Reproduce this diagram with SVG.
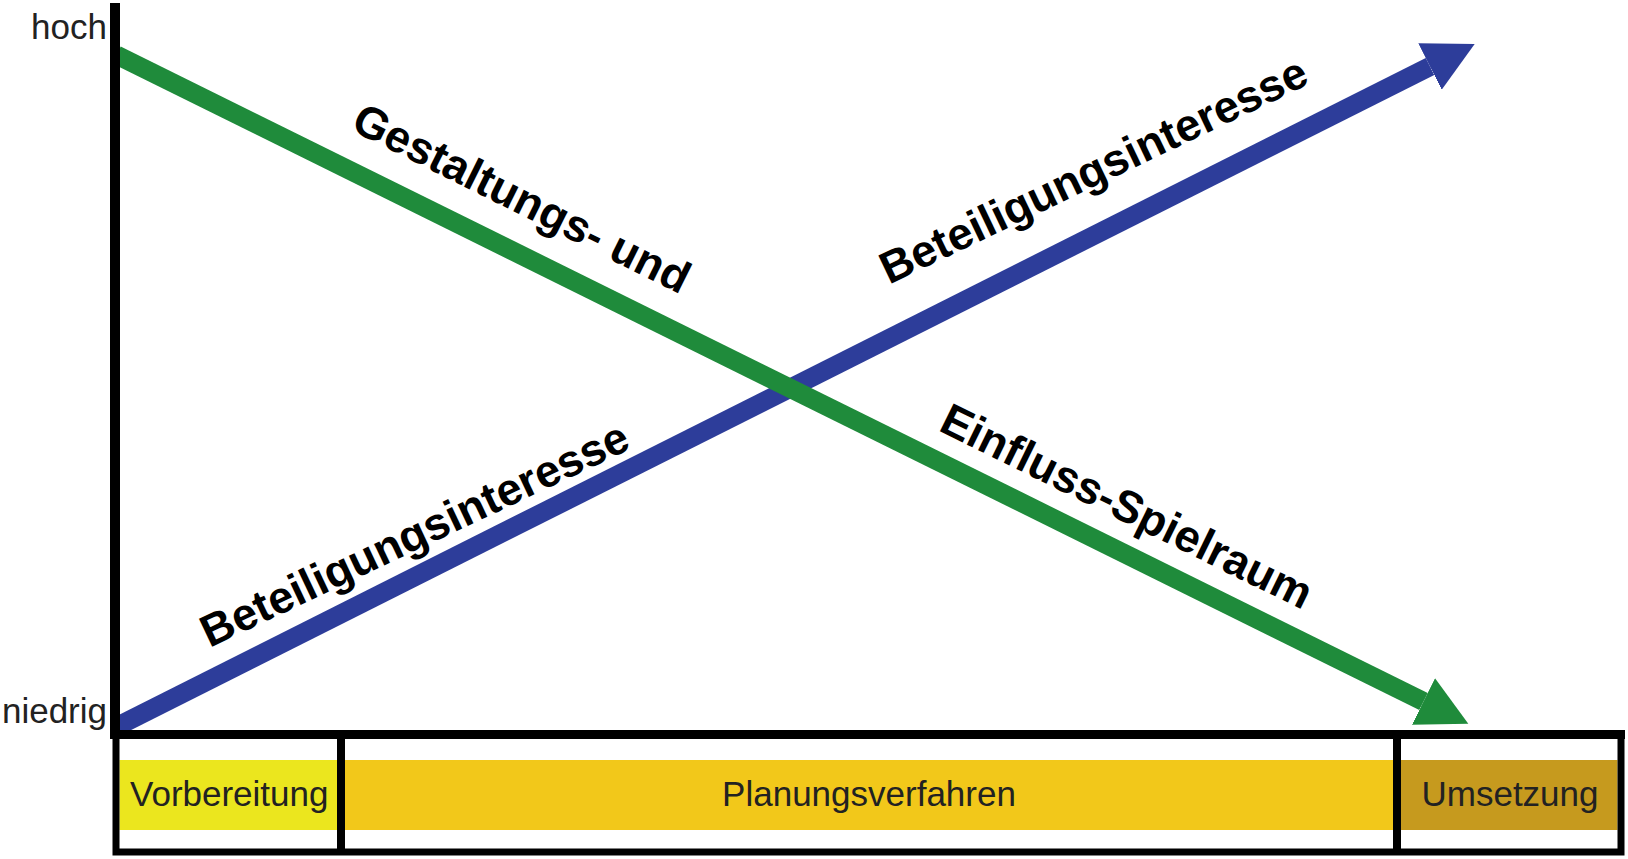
<svg xmlns="http://www.w3.org/2000/svg" width="1628" height="859" viewBox="0 0 1628 859">
<defs>
<style>
.ax{stroke:#000;stroke-linecap:butt}
.lbl{font-family:"Liberation Sans",Arial,sans-serif;font-size:35px;fill:#222}
.diag{font-family:"Liberation Sans",Arial,sans-serif;font-size:45px;font-weight:bold;fill:#000;text-anchor:middle}
.green{stroke:#1f8b3b;stroke-width:19;fill:none}
.blue{stroke:#2d3d9a;stroke-width:19;fill:none}
</style>
<marker id="hg" markerUnits="userSpaceOnUse" markerWidth="60" markerHeight="60" refX="0" refY="30" orient="auto" viewBox="0 0 60 60">
<path d="M0,4 L50,30 L0,56 z" fill="#1f8b3b"/>
</marker>
<marker id="hb" markerUnits="userSpaceOnUse" markerWidth="60" markerHeight="60" refX="0" refY="30" orient="auto" viewBox="0 0 60 60">
<path d="M0,4 L50,30 L0,56 z" fill="#2d3d9a"/>
</marker>
</defs>
<rect width="1628" height="859" fill="#fff"/>

<g id="phases">
<g id="vorbereitung">
<rect x="119.5" y="760" width="218" height="70" fill="#ebe61e"/>
<text class="lbl" x="130" y="806">Vorbereitung</text>
</g>
<g id="planungsverfahren">
<rect x="344.5" y="760" width="1049" height="70" fill="#f2c81a"/>
<text class="lbl" x="869" y="806" text-anchor="middle">Planungsverfahren</text>
</g>
<g id="umsetzung">
<rect x="1400.5" y="760" width="217" height="70" fill="#c69a1e"/>
<text class="lbl" x="1510" y="806" text-anchor="middle">Umsetzung</text>
</g>
<rect x="116" y="734" width="1505" height="118" fill="none" stroke="#000" stroke-width="7"/>
<line class="ax" x1="341" y1="734" x2="341" y2="852" stroke-width="8"/>
<line class="ax" x1="1397" y1="734" x2="1397" y2="852" stroke-width="8"/>
</g>

<g id="connectors">
<line id="beteiligung" class="blue" x1="118" y1="726" x2="1430" y2="66.5" marker-end="url(#hb)"/>
<line id="spielraum" class="green" x1="116.5" y1="55" x2="1423.5" y2="701.5" marker-end="url(#hg)"/>
</g>

<g id="axes">
<line class="ax" x1="115" y1="3" x2="115" y2="739" stroke-width="10"/>
<line class="ax" x1="110" y1="734.5" x2="1625" y2="734.5" stroke-width="9"/>
<text class="lbl" x="107" y="39" text-anchor="end">hoch</text>
<text class="lbl" x="107" y="723" text-anchor="end">niedrig</text>
</g>

<g id="labels">
<text class="diag" transform="translate(515,212) rotate(26.5)">Gestaltungs- und</text>
<text class="diag" transform="translate(1120,520) rotate(26.2)">Einfluss-Spielraum</text>
<text class="diag" transform="translate(1100,184) rotate(-25.5)">Beteiligungsinteresse</text>
<text class="diag" transform="translate(421,548) rotate(-25.3)">Beteiligungsinteresse</text>
</g>
</svg>
